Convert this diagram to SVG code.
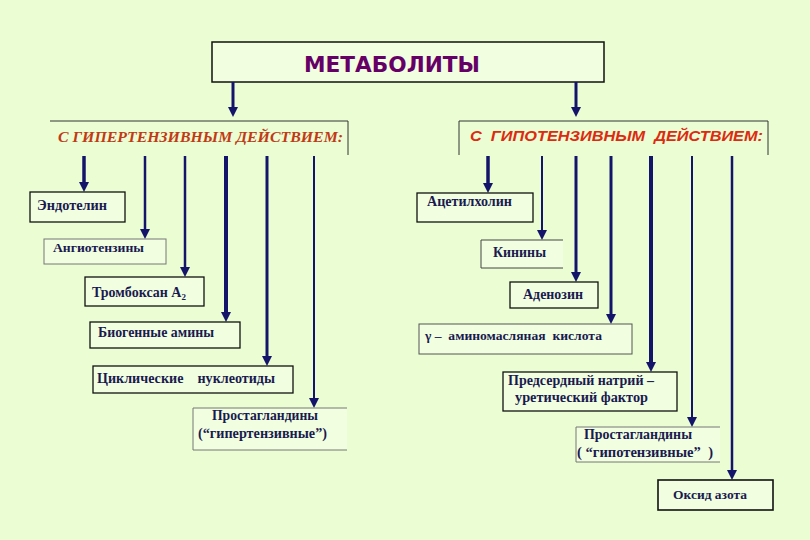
<svg xmlns="http://www.w3.org/2000/svg" width="810" height="540" viewBox="0 0 810 540">
<style>
.bg{fill:#eafdd3}
.box{fill:#f1ffe0;stroke:#111;stroke-width:1.3}
.gbox{fill:#f1ffe0;stroke:#777;stroke-width:1}
.open{fill:#f1ffe0;stroke:#777;stroke-width:1}
.t{font-family:"Liberation Serif","Times New Roman",serif;font-weight:bold;font-size:14px;fill:#1a1a50;white-space:pre}
.title{font-family:"DejaVu Sans",Verdana,sans-serif;font-weight:bold;font-size:22px;fill:#660066}
.hl{font-family:"Liberation Serif","Times New Roman",serif;font-weight:bold;font-style:italic;font-size:15px;fill:#c03a16;white-space:pre}
.hr{font-family:"Liberation Sans",Arial,sans-serif;font-weight:bold;font-style:italic;font-size:14px;fill:#dd2a10;white-space:pre}
.br{fill:none;stroke:#333;stroke-width:1}
.a{stroke:#14146a;fill:none;marker-end:url(#ah)}
</style>
<defs>
<marker id="ah" markerUnits="userSpaceOnUse" markerWidth="10" markerHeight="10" viewBox="0 0 10 10" refX="4" refY="5" orient="auto">
<path d="M0,0 L10,5 L0,10 z" fill="#14146a"/>
</marker>
</defs>
<rect class="bg" x="0" y="0" width="810" height="540"/>

<g id="node-metabolity">
<rect class="box" x="212" y="42" width="392" height="40" style="stroke-width:1.5"/>
<text class="title" x="304" y="72" textLength="176" lengthAdjust="spacingAndGlyphs">МЕТАБОЛИТЫ</text>
</g>

<g id="node-hyper-header">
<path class="br" d="M50,121 H348 V155"/>
<text class="hl" x="58" y="142" textLength="285" lengthAdjust="spacingAndGlyphs">С ГИПЕРТЕНЗИВНЫМ ДЕЙСТВИЕМ:</text>
</g>

<g id="node-hypo-header">
<path class="br" d="M459,155 V121 H768 V155"/>
<text class="hr" x="470" y="141" textLength="293" lengthAdjust="spacingAndGlyphs">С  ГИПОТЕНЗИВНЫМ  ДЕЙСТВИЕМ:</text>
</g>

<g id="connectors">
<line class="a" x1="233" y1="82" x2="233" y2="111" style="stroke-width:3"/>
<line class="a" x1="576" y1="82" x2="576" y2="111" style="stroke-width:3"/>
<line class="a" x1="84" y1="156" x2="84" y2="186" style="stroke-width:3.5"/>
<line class="a" x1="145" y1="156" x2="145" y2="233" style="stroke-width:2.5"/>
<line class="a" x1="185" y1="156" x2="185" y2="271" style="stroke-width:2.5"/>
<line class="a" x1="226" y1="156" x2="226" y2="316" style="stroke-width:4"/>
<line class="a" x1="267" y1="156" x2="267" y2="360" style="stroke-width:3"/>
<line class="a" x1="314" y1="156" x2="314" y2="402" style="stroke-width:2"/>
<line class="a" x1="488" y1="156" x2="488" y2="187" style="stroke-width:3.5"/>
<line class="a" x1="542" y1="156" x2="542" y2="234" style="stroke-width:2"/>
<line class="a" x1="576" y1="156" x2="576" y2="276" style="stroke-width:3"/>
<line class="a" x1="611" y1="156" x2="611" y2="318" style="stroke-width:3"/>
<line class="a" x1="651" y1="156" x2="651" y2="366" style="stroke-width:4"/>
<line class="a" x1="692" y1="156" x2="692" y2="421" style="stroke-width:2"/>
<line class="a" x1="732" y1="156" x2="732" y2="474" style="stroke-width:2.5"/>
</g>

<g id="node-endotelin">
<rect class="box" x="30" y="192" width="95" height="30"/>
<text class="t" x="37" y="210" textLength="70" lengthAdjust="spacingAndGlyphs">Эндотелин</text>
</g>

<g id="node-angiotenziny">
<rect class="gbox" x="44" y="239" width="122" height="25"/>
<text class="t" x="53" y="252" style="font-size:12px" textLength="91" lengthAdjust="spacingAndGlyphs">Ангиотензины</text>
</g>

<g id="node-tromboksan">
<rect class="box" x="85" y="277" width="119" height="29"/>
<text class="t" x="92" y="297">Тромбоксан А<tspan dy="3" style="font-size:9px">2</tspan></text>
</g>

<g id="node-biogennye">
<rect class="box" x="90" y="322" width="150" height="26"/>
<text class="t" x="98" y="337" textLength="116" lengthAdjust="spacingAndGlyphs">Биогенные амины</text>
</g>

<g id="node-ciklicheskie">
<rect class="box" x="93" y="366" width="200" height="27"/>
<text class="t" x="97" y="383" textLength="178" lengthAdjust="spacingAndGlyphs">Циклические    нуклеотиды</text>
</g>

<g id="node-prostaglandiny-hyper">
<path class="open" d="M347,408 H193 V450 H347"/>
<text class="t" x="212" y="420" textLength="106" lengthAdjust="spacingAndGlyphs">Простагландины</text>
<text class="t" x="198" y="438" textLength="129" lengthAdjust="spacingAndGlyphs">(“гипертензивные”)</text>
</g>

<g id="node-acetilholin">
<rect class="box" x="417" y="193" width="116" height="29"/>
<text class="t" x="427" y="206" textLength="85" lengthAdjust="spacingAndGlyphs">Ацетилхолин</text>
</g>

<g id="node-kininy">
<path class="open" d="M563,240 H481 V268 H563" style="stroke:#444"/>
<text class="t" x="493" y="257" textLength="53" lengthAdjust="spacingAndGlyphs">Кинины</text>
</g>

<g id="node-adenozin">
<rect class="box" x="510" y="282" width="88" height="26"/>
<text class="t" x="523" y="299" textLength="60" lengthAdjust="spacingAndGlyphs">Аденозин</text>
</g>

<g id="node-gamk">
<rect class="gbox" x="419" y="324" width="213" height="30" style="stroke:#555"/>
<text class="t" x="425" y="340" style="font-size:12px" textLength="177" lengthAdjust="spacingAndGlyphs">γ –  аминомасляная  кислота</text>
</g>

<g id="node-predserdnyi">
<rect class="box" x="503" y="372" width="174" height="39"/>
<text class="t" x="508" y="385" textLength="146" lengthAdjust="spacingAndGlyphs">Предсердный натрий –</text>
<text class="t" x="515" y="402" textLength="133" lengthAdjust="spacingAndGlyphs">уретический фактор</text>
</g>

<g id="node-prostaglandiny-hypo">
<path class="open" d="M720,427 H576 V462 H720"/>
<text class="t" x="584" y="439" textLength="108" lengthAdjust="spacingAndGlyphs">Простагландины</text>
<text class="t" x="577" y="457" textLength="136" lengthAdjust="spacingAndGlyphs">( “гипотензивные”  )</text>
</g>

<g id="node-oksid-azota">
<rect class="box" x="658" y="480" width="115" height="30" style="stroke-width:1.6"/>
<text class="t" x="673" y="499" style="font-size:13px" textLength="74" lengthAdjust="spacingAndGlyphs">Оксид азота</text>
</g>
</svg>
